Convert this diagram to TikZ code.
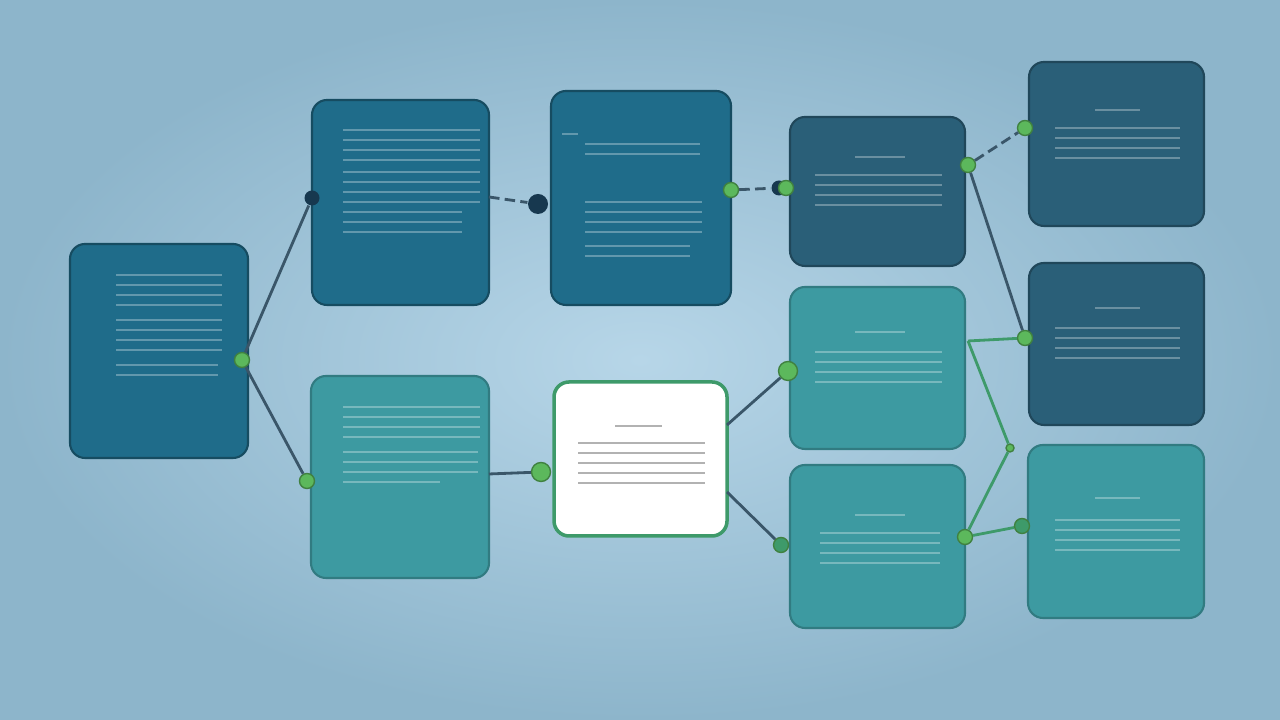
\documentclass[tikz,border=0pt]{standalone}
\usepackage{tikz}
\usetikzlibrary{calc}
\definecolor{bgmid}{HTML}{B7D6E8}
\definecolor{bgedge}{HTML}{8DB5CB}
\definecolor{deepblue}{HTML}{1F6C8A}
\definecolor{slateblue}{HTML}{2A5F78}
\definecolor{seateal}{HTML}{3D9AA1}
\definecolor{dotgreen}{HTML}{5CB85C}
\definecolor{dotnavy}{HTML}{17384F}
\definecolor{wiregreen}{HTML}{3E9A6A}
\tikzset{
  card/.style={rounded corners=0.15cm, line width=0.6pt, inner sep=0pt},
  deepcard/.style={card, fill=deepblue, draw=deepblue!70!black},
  slatecard/.style={card, fill=slateblue, draw=slateblue!75!black},
  tealcard/.style={card, fill=seateal, draw=seateal!80!black},
  whitecard/.style={card, fill=white, draw=wiregreen, line width=1pt},
  wire/.style={line width=0.8pt, draw=dotnavy!85},
  greenwire/.style={line width=0.8pt, draw=wiregreen},
  dashwire/.style={wire, dash pattern=on 3pt off 1.5pt},
  gdot/.style={circle, fill=dotgreen, draw=dotgreen!70!black, inner sep=0pt, minimum size=0.15cm},
  ndot/.style={circle, fill=dotnavy, inner sep=0pt, minimum size=0.15cm},
  txt/.style={line width=0.4pt, draw=white, opacity=0.3},
  darktxt/.style={line width=0.4pt, draw=black, opacity=0.3}
}
% faint lines standing for the unreadable copy: x0, x1, y top, count, style
\newcommand{\copylines}[5]{%
  \foreach \k in {1,...,#4}{
    \draw[#5] (#1,#3-0.1*\k+0.1) -- (#2,#3-0.1*\k+0.1);
  }
}
\begin{document}
\begin{tikzpicture}
\shade[inner color=bgmid, outer color=bgedge] (0,0) rectangle (12.8,7.2);
\useasboundingbox (0,0) rectangle (12.8,7.2);

% cards
\node[deepcard, minimum width=1.78cm, minimum height=2.14cm] (a) at (1.59,3.69) {};
\node[deepcard, minimum width=1.77cm, minimum height=2.05cm] (b) at (4.005,5.175) {};
\node[tealcard, minimum width=1.78cm, minimum height=2.02cm] (c) at (4.0,2.43) {};
\node[deepcard, minimum width=1.80cm, minimum height=2.14cm] (d) at (6.41,5.22) {};
\node[whitecard, minimum width=1.73cm, minimum height=1.54cm] (e) at (6.405,2.61) {};
\node[slatecard, minimum width=1.75cm, minimum height=1.49cm] (f) at (8.775,5.285) {};
\node[tealcard, minimum width=1.75cm, minimum height=1.62cm] (g) at (8.775,3.52) {};
\node[tealcard, minimum width=1.75cm, minimum height=1.63cm] (h) at (8.775,1.735) {};
\node[slatecard, minimum width=1.75cm, minimum height=1.64cm] (i) at (11.165,5.76) {};
\node[slatecard, minimum width=1.75cm, minimum height=1.62cm] (j) at (11.165,3.76) {};
\node[tealcard, minimum width=1.76cm, minimum height=1.73cm] (k) at (11.16,1.885) {};

% copy marks
\copylines{1.16}{2.22}{4.45}{4}{txt}
\copylines{1.16}{2.22}{4.00}{4}{txt}
\copylines{1.16}{2.18}{3.55}{2}{txt}
\copylines{3.43}{4.80}{5.90}{4}{txt}
\copylines{3.43}{4.80}{5.48}{4}{txt}
\copylines{3.43}{4.62}{5.08}{3}{txt}
\copylines{3.43}{4.80}{3.13}{4}{txt}
\copylines{3.43}{4.78}{2.68}{3}{txt}
\copylines{3.43}{4.40}{2.38}{1}{txt}
\copylines{5.85}{7.00}{5.76}{2}{txt}
\copylines{5.85}{7.02}{5.18}{4}{txt}
\copylines{5.85}{6.90}{4.74}{2}{txt}
\copylines{5.78}{7.05}{2.77}{5}{darktxt}
\copylines{8.15}{9.42}{5.45}{4}{txt}
\copylines{8.15}{9.42}{3.68}{4}{txt}
\copylines{8.20}{9.40}{1.87}{4}{txt}
\copylines{10.55}{11.80}{5.92}{4}{txt}
\copylines{10.55}{11.80}{3.92}{4}{txt}
\copylines{10.55}{11.80}{2.00}{4}{txt}
% heading marks
\draw[darktxt, line width=0.8pt] (6.15,2.94) -- (6.62,2.94);
\draw[txt, line width=0.8pt] (8.55,5.63) -- (9.05,5.63);
\draw[txt, line width=0.8pt] (8.55,3.88) -- (9.05,3.88);
\draw[txt, line width=0.8pt] (8.55,2.05) -- (9.05,2.05);
\draw[txt, line width=0.8pt] (10.95,6.10) -- (11.40,6.10);
\draw[txt, line width=0.8pt] (10.95,4.12) -- (11.40,4.12);
\draw[txt, line width=0.8pt] (10.95,2.22) -- (11.40,2.22);
\draw[txt, line width=0.8pt] (5.62,5.86) -- (5.78,5.86);

% joints
\node[gdot] (pa) at (2.42,3.60) {};
\node[ndot] (pb) at (3.12,5.22) {};
\node[gdot] (pc) at (3.07,2.39) {};
\coordinate (bo) at (4.89,5.23);
\node[ndot, minimum size=0.2cm] (pd) at (5.38,5.16) {};
\node[gdot] (do) at (7.31,5.30) {};
\node[ndot] (pf0) at (7.79,5.32) {};
\node[gdot] (pf) at (7.86,5.32) {};
\coordinate (co) at (4.89,2.46);
\node[gdot, minimum size=0.19cm] (pe) at (5.41,2.48) {};
\coordinate (ea) at (7.27,2.95);
\node[gdot, minimum size=0.19cm] (pg) at (7.88,3.49) {};
\coordinate (eb) at (7.27,2.28);
\node[gdot, fill=wiregreen] (ph) at (7.81,1.75) {};
\node[gdot] (fo) at (9.68,5.55) {};
\node[gdot] (pi) at (10.25,5.92) {};
\node[gdot] (pj) at (10.25,3.82) {};
\coordinate (go) at (9.68,3.79);
\node[gdot, minimum size=0.08cm] (mid) at (10.10,2.72) {};
\node[gdot] (ho) at (9.65,1.83) {};
\node[gdot, fill=wiregreen] (pk) at (10.22,1.94) {};

% wires
\draw[wire] (pa) -- (pb);
\draw[wire] (pa) -- (pc);
\draw[dashwire] (bo) -- (pd);
\draw[dashwire] (do) -- (pf0);
\draw[wire] (co) -- (pe);
\draw[wire] (ea) -- (pg);
\draw[wire] (eb) -- (ph);
\draw[dashwire] (fo) -- (pi);
\draw[wire] (fo) -- (pj);
\draw[greenwire] (go) -- (pj);
\draw[greenwire] (go) -- (mid) -- (ho);
\draw[greenwire] (ho) -- (pk);
\end{tikzpicture}
\end{document}
